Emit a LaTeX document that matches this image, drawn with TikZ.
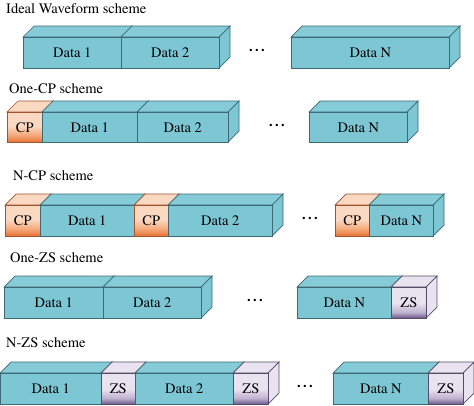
\documentclass[tikz,border=0pt]{standalone}
\usepackage[T1]{fontenc}
\usepackage{mathptmx}

\definecolor{datafill}{RGB}{125,198,211}
\definecolor{datatopfill}{RGB}{133,204,216}
\definecolor{dataedge}{RGB}{62,104,115}
\definecolor{cplight}{RGB}{251,216,194}
\definecolor{cpmid}{RGB}{244,168,122}
\definecolor{cpdark}{RGB}{230,112,50}
\definecolor{cpedge}{RGB}{160,85,45}
\definecolor{zslight}{RGB}{233,227,240}
\definecolor{zsmid}{RGB}{192,178,208}
\definecolor{zsdark}{RGB}{105,85,135}
\definecolor{zsedge}{RGB}{85,75,105}

\pgfdeclareverticalshading{cpshade}{100bp}{color(0bp)=(cpdark); color(25bp)=(cpdark); color(37bp)=(cpmid); color(52bp)=(cplight); color(100bp)=(cplight)}
\pgfdeclareverticalshading{zsshade}{100bp}{color(0bp)=(zsdark); color(25bp)=(zsdark); color(35bp)=(zsmid); color(50bp)=(zslight); color(100bp)=(zslight)}

\tikzset{
    every node/.style={font=\fontsize{14.5}{17}\selectfont},
    title/.style={anchor=base west, inner sep=0pt},
    datafront/.style={draw=dataedge, fill=datafill},
    datatop/.style={draw=dataedge, fill=datatopfill},
    dataside/.style={draw=dataedge, fill=datafill},
    cpfront/.style={draw=cpedge, shading=cpshade},
    cptop/.style={draw=cpedge, fill=cplight},
    cpside/.style={draw=cpedge, fill=cplight},
    zsfront/.style={draw=zsedge, shading=zsshade},
    zstop/.style={draw=zsedge, fill=zslight},
    zsside/.style={draw=zsedge, fill=zslight},
}

% one block of the frame: name, left, right, top, bottom, kind, label
\newcommand{\slab}[7]{%
    \draw[#6top, line width=0.7pt] (#2,#4) -- (#2+11,#4-11) -- (#3+11,#4-11) -- (#3,#4) -- cycle;
    \draw[#6side, line width=0.7pt] (#3,#4) -- (#3+11,#4-11) -- (#3+11,#5-11) -- (#3,#5) -- cycle;
    \node[#6front, line width=0.7pt, anchor=north west, inner sep=0pt,
          minimum width={(#3-#2)*1pt}, minimum height={(#5-#4)*1pt}] (#1) at (#2,#4) {#7};
}

\begin{document}
\begin{tikzpicture}[x=1pt, y=-1pt]
    \useasboundingbox (0,0) rectangle (474,405);

    % ideal waveform
    \node[title] (t-ideal) at (6,13) {Ideal Waveform scheme};
    \foreach \kind/\xa/\xb/\txt [count=\i] in {data/23/121/Data 1, data/121/219/Data 2, data/291/449/Data N} {
        \slab{ideal-\i}{\xa}{\xb}{37}{68}{\kind}{\txt}
    }
    \node (dots-ideal) at (257,50) {\textbf{.\,.\,.}};

    % one cp
    \node[title] (t-onecp) at (9,93) {One-CP scheme};
    \foreach \kind/\xa/\xb/\txt [count=\i] in {cp/7/42/CP, data/42/137/Data 1, data/137/228/Data 2, data/309/407/Data N} {
        \slab{onecp-\i}{\xa}{\xb}{112}{142}{\kind}{\txt}
    }
    \node (dots-onecp) at (277,125) {\textbf{.\,.\,.}};

    % n cp
    \node[title] (t-ncp) at (13,180) {N-CP scheme};
    \foreach \kind/\xa/\xb/\txt [count=\i] in {cp/5/40/CP, data/40/134/Data 1, cp/134/168/CP, data/168/272/Data 2, cp/335/369/CP, data/369/433/Data N} {
        \slab{ncp-\i}{\xa}{\xb}{205}{236}{\kind}{\txt}
    }
    \node (dots-ncp) at (310,218) {\textbf{.\,.\,.}};

    % one zs
    \node[title] (t-onezs) at (10,262) {One-ZS scheme};
    \foreach \kind/\xa/\xb/\txt [count=\i] in {data/4/103/Data 1, data/103/201/Data 2, data/297/391/Data N, zs/391/426/ZS} {
        \slab{onezs-\i}{\xa}{\xb}{287}{318}{\kind}{\txt}
    }
    \node (dots-onezs) at (255,300) {\textbf{.\,.\,.}};

    % n zs
    \node[title] (t-nzs) at (6,347) {N-ZS scheme};
    \foreach \kind/\xa/\xb/\txt [count=\i] in {data/0/101/Data 1, zs/101/135/ZS, data/135/233/Data 2, zs/233/268/ZS, data/333/428/Data N, zs/428/463/ZS} {
        \slab{nzs-\i}{\xa}{\xb}{373}{404}{\kind}{\txt}
    }
    \node (dots-nzs) at (305,386) {\textbf{.\,.\,.}};
\end{tikzpicture}
\end{document}
